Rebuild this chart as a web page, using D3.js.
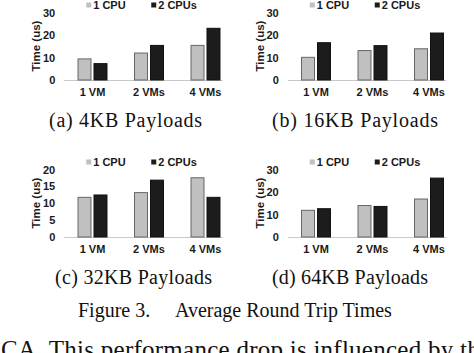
<!DOCTYPE html>
<meta charset="utf-8">
<style>
body { margin: 0; background: #fff; }
svg { display: block; }
.tick text, .lbl { font-family: "Liberation Sans", Arial, sans-serif; font-weight: bold; font-size: 11px; fill: #1a1a1a; }
.cap { font: 20px "Liberation Serif", "Times New Roman", serif; fill: #111; }
</style>
<svg width="474" height="353"></svg>
<script src="https://d3js.org/d3.v7.min.js"></script>
<script>

var groups = ["1 VM", "2 VMs", "4 VMs"];
var series = ["1 CPU", "2 CPUs"];

var a1 = [9.6, 12.2, 15.6], a2 = [7.5, 15.6, 23.2];
var b1 = [10.3, 13.3, 14.1], b2 = [16.8, 15.5, 21.1];
var c1 = [11.9, 13.3, 17.7], c2 = [12.6, 17, 11.9];
var d1 = [12.1, 14.2, 17.1], d2 = [12.8, 13.8, 26.4];

var captions = ["(a)  4KB Payloads", "(b) 16KB Payloads", "(c) 32KB Payloads", "(d) 64KB Payloads"];

var svg = d3.select("svg");
var colors = {"1 CPU": "#c0c0c0", "2 CPUs": "#1c1c1c"};

var panels = [
  {s1: a1, s2: a2, max: 30, ticks: [0, 10, 20, 30], dx: 0, dy: 0, x0: 64.25, cap: captions[0], capX: 49, capW: 153},
  {s1: b1, s2: b2, max: 30, ticks: [0, 10, 20, 30], dx: 237, dy: 0, x0: 50.75, cap: captions[1], capX: 35, capW: 166},
  {s1: c1, s2: c2, max: 20, ticks: [0, 5, 10, 15, 20], dx: 0, dy: 157, x0: 64.25, cap: captions[2], capX: 55, capW: 157},
  {s1: d1, s2: d2, max: 30, ticks: [0, 10, 20, 30], dx: 237, dy: 157, x0: 50.75, cap: captions[3], capX: 35, capW: 156}
];

panels.forEach(function(p) {
  var g = svg.append("g").attr("transform", "translate(" + p.dx + "," + p.dy + ")");

  var x = d3.scaleBand().domain(groups).range([p.x0, p.x0 + 169.5]);
  var x1 = d3.scaleBand().domain(series).range([0, x.bandwidth()])
      .paddingInner(0.125).paddingOuter(0.83);
  var y = d3.scaleLinear().domain([0, p.max]).range([80, 12.5]);

  var rows = groups.map(function(gr, i) {
    return {group: gr, vals: [{s: "1 CPU", v: p.s1[i]}, {s: "2 CPUs", v: p.s2[i]}]};
  });

  // baseline
  g.append("line")
      .attr("x1", x.range()[0]).attr("x2", x.range()[1] - 11)
      .attr("y1", y(0) + 0.5).attr("y2", y(0) + 0.5)
      .attr("stroke", "#c8c8c8");

  g.append("g").selectAll("g")
    .data(rows)
    .enter().append("g")
      .attr("transform", function(d) { return "translate(" + x(d.group) + ",0)"; })
    .selectAll("rect")
    .data(function(d) { return d.vals; })
    .enter().append("rect")
      .attr("x", function(d) { return x1(d.s) + 0.5; })
      .attr("y", function(d) { return y(d.v) + 0.5; })
      .attr("width", x1.bandwidth() - 1)
      .attr("height", function(d) { return y(0) - y(d.v) - 0.5; })
      .attr("fill", function(d) { return colors[d.s]; })
      .attr("stroke", function(d) { return d.s == "1 CPU" ? "#666" : "#111"; })
      .attr("stroke-width", 1);

  var ya = g.append("g")
      .attr("transform", "translate(" + p.x0 + ",0)")
      .call(d3.axisLeft(y).tickValues(p.ticks).tickSize(0).tickPadding(9));
  ya.select(".domain").remove();

  var xa = g.append("g")
      .attr("transform", "translate(0," + y(0) + ")")
      .call(d3.axisBottom(x).tickSize(0).tickPadding(8));
  xa.select(".domain").remove();

  g.append("text")
      .attr("class", "lbl")
      .attr("transform", "translate(" + (p.x0 - 24) + ",46) rotate(-90)")
      .attr("text-anchor", "middle")
      .style("font-size", "11.5px")
      .text("Time (us)");

  // legend
  var leg = g.append("g").selectAll("g")
    .data(series)
    .enter().append("g")
      .attr("transform", function(d, i) { return "translate(" + (p.x0 + 22 + i * 65) + ",9)"; });
  leg.append("rect")
      .attr("x", 0).attr("y", -6.5)
      .attr("width", 5).attr("height", 5)
      .attr("fill", function(d) { return colors[d]; });
  leg.append("text")
      .attr("class", "lbl")
      .attr("x", 7)
      .text(function(d) { return d; });

  g.append("text")
      .attr("class", "cap")
      .attr("x", p.capX)
      .attr("y", 127)
      .attr("textLength", p.capW)
      .attr("lengthAdjust", "spacing")
      .text(p.cap);
});

svg.append("text").attr("class", "cap").attr("x", 78).attr("y", 317).text("Figure 3.");
svg.append("text").attr("class", "cap").attr("x", 175).attr("y", 317).text("Average Round Trip Times");

svg.append("text")
    .attr("class", "cap")
    .attr("x", 1)
    .attr("y", 358)
    .style("font-size", "25px")
    .attr("textLength", 490)
    .attr("lengthAdjust", "spacing")
    .text("CA. This performance drop is influenced by the");

</script>
